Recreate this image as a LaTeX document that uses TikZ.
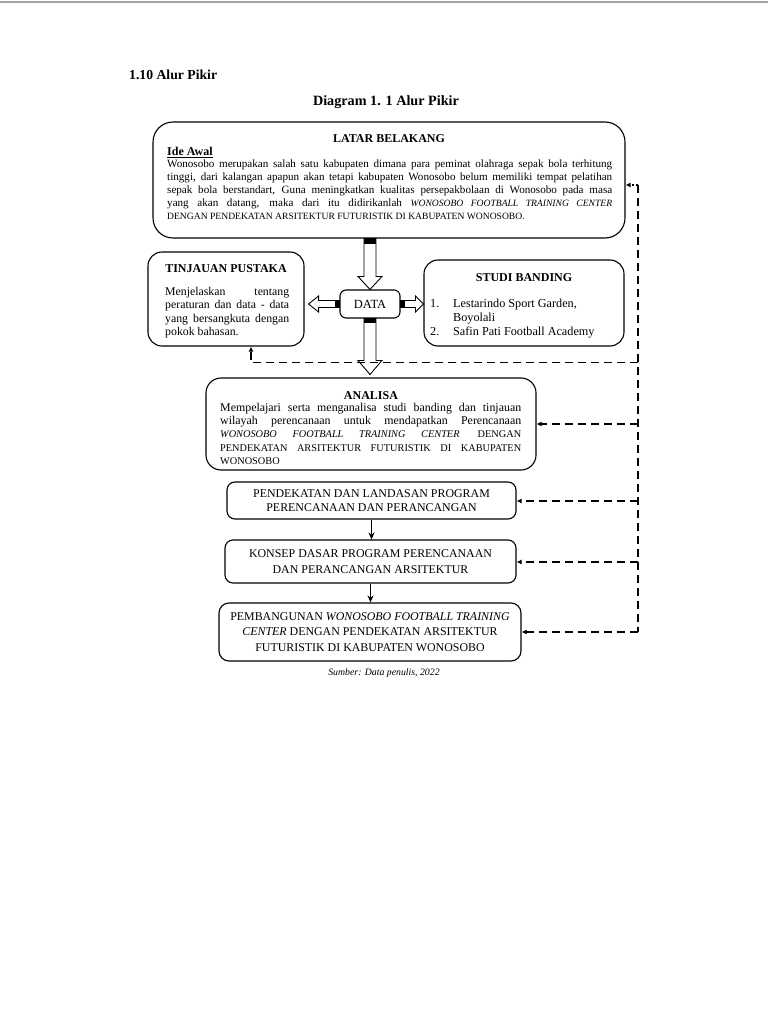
\documentclass[tikz,border=0pt]{standalone}
\usepackage{fontspec}
\setmainfont{Liberation Serif}
\usetikzlibrary{arrows.meta,calc}

\newcommand\capsz{\fontsize{9.6}{12}\selectfont}
\newcommand\capszb{\fontsize{10.3}{12}\selectfont}

\tikzset{
  kotak/.style={draw, line width=1.1pt, rounded corners=14pt, inner sep=0pt},
  judul/.style={font=\fontsize{12}{14}\selectfont\bfseries, inner sep=0pt, anchor=base},
  isi/.style={font=\fontsize{11}{12.5}\selectfont, inner sep=0pt, align=justify, anchor=north west},
  baris/.style={font=\fontsize{12.2}{14}\selectfont, inner sep=0pt, anchor=base west},
  tengah/.style={font=\fontsize{11.9}{14}\selectfont, inner sep=0pt, align=center},
  blok/.style={draw, line width=0.9pt, fill=white},
  panah/.style={-{Stealth[length=7pt,width=6pt]}, line width=1.1pt},
  balik/.style={line width=1.7pt, dash pattern=on 8pt off 5pt},
  balikpanah/.style={balik, -{Latex[length=5pt,width=5pt]}},
}

\begin{document}
\begin{tikzpicture}[x=1pt,y=-1pt]
  \useasboundingbox (0,0) rectangle (768,1024);
  \draw[gray!70, line width=1.5pt] (0,2) -- (768,2);

  % judul halaman
  \node[judul, anchor=base west, font=\fontsize{13.7}{16}\selectfont\bfseries] (bab) at (129,80) {1.10 Alur Pikir};
  \node[judul, font=\fontsize{14.2}{16}\selectfont\bfseries] (diagram) at (386,106) {Diagram 1. 1 Alur Pikir};

  % latar belakang
  \node[kotak, rounded corners=20pt, minimum width=472, minimum height=116] (lb) at (389,180) {};
  \node[judul] (lbJudul) at (389,143) {LATAR BELAKANG};
  \node[judul, anchor=base west] (ide) at (167,156) {\underline{Ide Awal}};
  \node[isi, text width=445pt, font=\fontsize{11.1}{12.8}\selectfont] (lbIsi) at (167,160) {Wonosobo merupakan salah satu kabupaten dimana para peminat olahraga sepak bola terhitung\linebreak
    tinggi, dari kalangan apapun akan tetapi kabupaten Wonosobo belum memiliki tempat pelatihan\linebreak
    sepak bola berstandart, Guna meningkatkan kualitas persepakbolaan di Wonosobo pada masa\linebreak
    yang akan datang, maka dari itu didirikanlah {\capsz\itshape WONOSOBO FOOTBALL TRAINING CENTER}\linebreak
    {\capsz DENGAN PENDEKATAN ARSITEKTUR FUTURISTIK DI KABUPATEN WONOSOBO.}};

  % tinjauan pustaka
  \node[kotak, minimum width=156, minimum height=94] (tp) at (226,299) {};
  \node[judul] (tpJudul) at (226,272) {TINJAUAN PUSTAKA};
  \node[isi, text width=124pt, font=\fontsize{11.8}{13.4}\selectfont] (tpIsi) at (165,287) {Menjelaskan tentang\linebreak
    peraturan dan data - data\linebreak yang bersangkuta dengan\linebreak pokok bahasan.};

  % data
  \node[kotak, rounded corners=6pt, minimum width=60, minimum height=28, font=\fontsize{12.5}{14}\selectfont] (data) at (370,304) {DATA};

  % studi banding
  \node[kotak, minimum width=200, minimum height=86] (sb) at (524,303) {};
  \node[judul] (sbJudul) at (524,281) {STUDI BANDING};
  \node[baris] (n1) at (430,307) {1.};
  \node[baris] (s1) at (453,307) {Lestarindo Sport Garden,};
  \node[baris] (s1b) at (453,321) {Boyolali};
  \node[baris] (n2) at (430,335) {2.};
  \node[baris] (s2) at (453,335) {Safin Pati Football Academy};

  % analisa
  \node[kotak, rounded corners=15pt, minimum width=330, minimum height=92] (an) at (371,424) {};
  \node[judul] (anJudul) at (371,399) {ANALISA};
  \node[isi, text width=301pt, font=\fontsize{11.9}{13.2}\selectfont] (anIsi) at (220,403) {Mempelajari serta menganalisa studi banding dan tinjauan\linebreak
    wilayah perencanaan untuk mendapatkan Perencanaan\linebreak
    {\capszb\itshape WONOSOBO FOOTBALL TRAINING CENTER} {\capszb DENGAN}\linebreak
    {\capszb PENDEKATAN ARSITEKTUR FUTURISTIK DI KABUPATEN}\linebreak
    {\capszb WONOSOBO}};

  % tahap lanjut
  \node[kotak, rounded corners=8pt, minimum width=289, minimum height=37, tengah] (pl) at (371.5,500.5) {PENDEKATAN DAN LANDASAN PROGRAM\\PERENCANAAN DAN PERANCANGAN};
  \node[kotak, rounded corners=8pt, minimum width=291, minimum height=43, tengah, font=\fontsize{11.9}{15.5}\selectfont] (kd) at (370.5,561.5) {KONSEP DASAR PROGRAM PERENCANAAN\\DAN PERANCANGAN ARSITEKTUR};
  \node[kotak, rounded corners=10pt, minimum width=302, minimum height=58, tengah, font=\fontsize{11.9}{15.5}\selectfont] (pb) at (370,632) {PEMBANGUNAN \textit{WONOSOBO FOOTBALL TRAINING}\\\textit{CENTER} DENGAN PENDEKATAN ARSITEKTUR\\FUTURISTIK DI KABUPATEN WONOSOBO};
  \node[font=\fontsize{9.8}{11}\selectfont\itshape, inner sep=0pt] (sumber) at (384,673) {Sumber: Data penulis, 2022};

  \draw[panah] (pl.south) -- (pl.south |- kd.north);
  \draw[panah] (kd.south) -- (kd.south |- pb.north);

  % panah blok
  \coordinate (a1) at (data.north |- lb.south);
  \coordinate (b1) at (data.north);
  \draw[blok] ($(a1)+(-6,0)$) -- ($(b1)+(-6,-13)$) -- ($(b1)+(-12,-13)$) -- (b1) -- ($(b1)+(12,-13)$) -- ($(b1)+(6,-13)$) -- ($(a1)+(6,0)$) -- cycle;
  \fill ($(a1)+(-6,0)$) rectangle ($(a1)+(6,5)$);
  \coordinate (a2) at (data.south);
  \coordinate (b2) at ($(an.north)+(-1,-3)$);
  \draw[blok] ($(a2)+(-6,0)$) -- ($(b2)+(-6,-14)$) -- ($(b2)+(-12,-14)$) -- (b2) -- ($(b2)+(12,-14)$) -- ($(b2)+(6,-14)$) -- ($(a2)+(6,0)$) -- cycle;
  \fill ($(a2)+(-6,0)$) rectangle ($(a2)+(6,4)$);
  \coordinate (b3) at ($(tp.east)+(4,5)$);
  \draw[blok] (data.west) ++(0,-3.5) -- ($(b3)+(10,-3.5)$) -- ($(b3)+(10,-8)$) -- (b3) -- ($(b3)+(10,8)$) -- ($(b3)+(10,3.5)$) -- ($(data.west)+(0,3.5)$) -- cycle;
  \fill ($(data.west)+(0,-3.5)$) rectangle ($(data.west)+(-4,3.5)$);
  \coordinate (b4) at (sb.west |- data.east);
  \draw[blok] (data.east) ++(0,-3.5) -- ($(b4)+(-8,-3.5)$) -- ($(b4)+(-8,-8)$) -- (b4) -- ($(b4)+(-8,8)$) -- ($(b4)+(-8,3.5)$) -- ($(data.east)+(0,3.5)$) -- cycle;
  \fill ($(data.east)+(0,-3.5)$) rectangle ($(data.east)+(4,3.5)$);

  % garis umpan balik
  \coordinate (puncak) at (638,185);
  \coordinate (belok) at ($(tp.south)+(25,16)$);
  \draw[balik] (puncak) -- (puncak |- pb.east);
  \draw[balikpanah, dash pattern=on 2pt off 2pt] (puncak) -- (puncak -| lb.east);
  \draw[balikpanah] (puncak |- belok) -- (belok) -- ([xshift=25pt]tp.south);
  \draw[balikpanah] (puncak |- an.east) -- (an.east);
  \draw[balikpanah] ([yshift=-0.5pt]puncak |- pl.east) -- ([yshift=-0.5pt]pl.east);
  \draw[balikpanah] ([yshift=-0.5pt]puncak |- kd.east) -- ([yshift=-0.5pt]kd.east);
  \draw[balikpanah] (puncak |- pb.east) -- (pb.east);
\end{tikzpicture}
\end{document}
